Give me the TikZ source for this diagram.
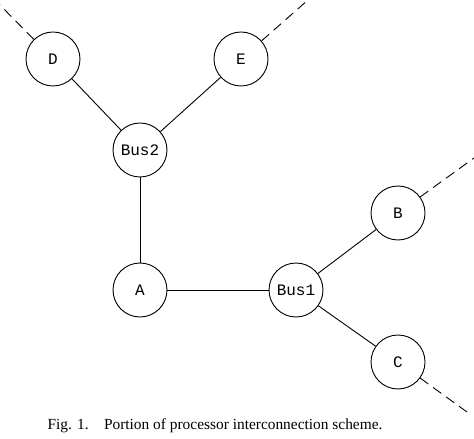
\documentclass[tikz,border=0pt]{standalone}
\usepackage{fontspec}
\setmainfont{Liberation Serif}
\newfontfamily\plotfont{Liberation Mono}
\usepackage{tikz}
\usetikzlibrary{positioning}

\begin{document}
\begin{tikzpicture}[x=1pt,y=1pt,node distance=140pt,on grid,line width=0.9pt]
  \tikzstyle{unit}=[circle,draw,minimum size=54pt,inner sep=0pt,font=\plotfont\fontsize{16}{19}\selectfont]
  \tikzstyle{link}=[dash pattern=on 10pt off 6pt]

  \useasboundingbox (-140,-149) rectangle (334,290);

  \node[unit] (A)                                     {A};
  \node[unit] (bus2) [above=of A]                     {Bus2};
  \node[unit] (bus1) [right=156pt of A]               {Bus1};
  \node[unit] (D)    [above left=91pt and 87pt of bus2]   {D};
  \node[unit] (E)    [above right=91pt and 101pt of bus2] {E};
  \node[unit] (B)    [above right=77pt and 102pt of bus1] {B};
  \node[unit] (C)    [below right=72pt and 102pt of bus1] {C};

  \coordinate (d_out) at (-140,285);
  \coordinate (e_out) at (168,290);
  \coordinate (b_out) at (334,132);
  \coordinate (c_out) at (327,-122);

  \path[draw]
  (A)    edge (bus2)
  (A)    edge (bus1)
  (bus2) edge (D)
  (bus2) edge (E)
  (bus1) edge (B)
  (bus1) edge (C)
  ;
  \path[draw,link]
  (D) edge (d_out)
  (E) edge (e_out)
  (B) edge (b_out)
  (C) edge (c_out)
  ;

  \node[font=\fontsize{15.4}{18}\selectfont,anchor=base] (caption) at (75,-139)
    {Fig. 1.\quad Portion of processor interconnection scheme.};
\end{tikzpicture}
\end{document}
